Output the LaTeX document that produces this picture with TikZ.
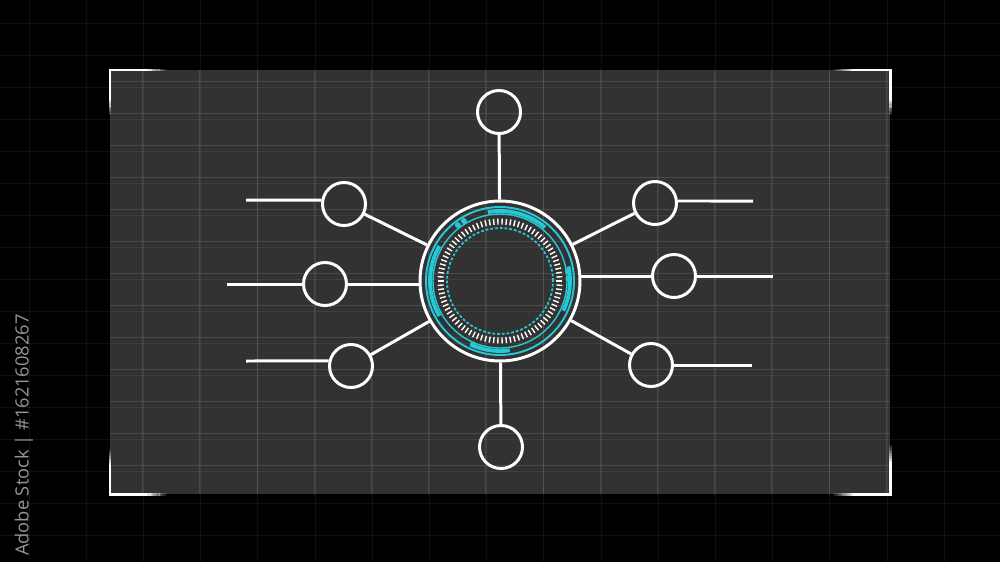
\documentclass[tikz,border=0pt]{standalone}
\usepackage{fontspec}
\setmainfont{Open Sans}
\definecolor{panel}{RGB}{50,50,50}
\definecolor{gridc}{RGB}{74,74,74}
\definecolor{cyanc}{RGB}{38,200,214}
\definecolor{wmark}{RGB}{150,150,150}
\begin{document}
\begin{tikzpicture}[x=0.02cm,y=-0.02cm,
  link/.style={draw=white,line width=1.7pt},
  sat/.style={circle,draw=white,line width=1.7pt,minimum size=0.86cm,inner sep=0pt},
  hub/.style={circle,draw=white,line width=1.7pt,minimum size=3.2cm,inner sep=0pt},
  thinring/.style={draw=cyanc,line width=1.1pt},
  thickarc/.style={draw=cyanc,line width=2.2pt},
  tick/.style={draw=white,line width=0.8pt},
  bracket/.style={draw=white,line width=1.7pt},
  fadeseg/.style={draw=white,line width=1.7pt,line cap=butt},
  pgrid/.style={draw=gridc,line width=0.5pt},
  bgrid/.style={draw=white,opacity=0.06,line width=0.5pt},
  cdot/.style={fill=cyanc}
]
\useasboundingbox (0,0) rectangle (1000,562);
\fill[black] (0,0) rectangle (1000,562);
\fill[panel] (110,70) rectangle (890,494);
\begin{scope}
  \clip (110,70) rectangle (890,494);
  \foreach \k in {-2,...,11} \draw[pgrid] ({257+57.2*\k},70) -- ({257+57.2*\k},494);
  \foreach \k in {0,...,12} \draw[pgrid] (110,{81+32*\k}) -- (890,{81+32*\k});
\end{scope}
% background grid
\foreach \k in {0,...,17} \draw[bgrid] ({29+57.2*\k},0) -- ({29+57.2*\k},562);
\foreach \k in {1,...,18} \draw[bgrid] (0,{-9+32*\k}) -- (1000,{-9+32*\k});

% corner brackets (solid part)
\draw[bracket] (110,98) -- (110,70) -- (145,70);
\draw[bracket] (855,70) -- (890,70) -- (890,98);
\draw[bracket] (110,466) -- (110,494) -- (145,494);
\draw[bracket] (855,494) -- (890,494) -- (890,464);
% corner brackets (fading part)
\foreach \i [evaluate=\i as \op using 1-\i/12] in {0,...,11}{
  \draw[fadeseg,opacity=\op] ({145+1.8*\i},70) -- ({146.9+1.8*\i},70);
  \draw[fadeseg,opacity=\op] ({855-1.8*\i},70) -- ({853.1-1.8*\i},70);
  \draw[fadeseg,opacity=\op] ({145+1.8*\i},494) -- ({146.9+1.8*\i},494);
  \draw[fadeseg,opacity=\op] ({855-1.8*\i},494) -- ({853.1-1.8*\i},494);
  \draw[fadeseg,opacity=\op] (110,{98+1.4*\i}) -- (110,{99.5+1.4*\i});
  \draw[fadeseg,opacity=\op] (890,{98+1.4*\i}) -- (890,{99.5+1.4*\i});
  \draw[fadeseg,opacity=\op] (110,{466-1.4*\i}) -- (110,{464.5-1.4*\i});
  \draw[fadeseg,opacity=\op] (890,{464-1.6*\i}) -- (890,{462.3-1.6*\i});
}

% nodes
\node[hub] (c) at (500,281) {};
\node[sat] (t) at (499,112) {};
\node[sat] (b) at (501,447) {};
\node[sat] (ul) at (344,204) {};
\node[sat] (ml) at (325,284) {};
\node[sat] (ll) at (351,366) {};
\node[sat] (ur) at (655,203) {};
\node[sat] (mr) at (674,276) {};
\node[sat] (lr) at (651,365) {};

\coordinate (ulE) at (246,200);
\coordinate (mlE) at (227,284);
\coordinate (llE) at (246,361);
\coordinate (urE) at (753,201);
\coordinate (mrE) at (773,276);
\coordinate (lrE) at (752,365);

% connectors
\draw[link] (t) -- (c);
\draw[link] (b) -- (c);
\draw[link] (ul) -- (c);
\draw[link] (ll) -- (c);
\draw[link] (ur) -- (c);
\draw[link] (lr) -- (c);
\draw[link] (ml.east) -- (c.west |- ml.east);
\draw[link] (mr.west) -- (c.east |- mr.west);
\draw[link] (ulE) -- (ul.170);
\draw[link] (mlE) -- (ml.west);
\draw[link] (llE) -- (ll.167);
\draw[link] (urE) -- (ur.5);
\draw[link] (mrE) -- (mr.east);
\draw[link] (lrE) -- (lr.east);

% hub decoration
\draw[thinring] (c.center) circle[radius=1.48cm];
\draw[thinring,line width=0.8pt] (c.center) circle[radius=1.34cm];
\draw[thickarc] ([shift={(50:1.40cm)}]c.center) arc[start angle=50,end angle=100,radius=1.40cm];
\draw[thickarc] ([shift={(245:1.40cm)}]c.center) arc[start angle=245,end angle=278,radius=1.40cm];
\draw[thickarc] ([shift={(150:1.40cm)}]c.center) arc[start angle=150,end angle=210,radius=1.40cm];
\draw[thickarc] ([shift={(-25:1.40cm)}]c.center) arc[start angle=-25,end angle=12,radius=1.40cm];
\foreach \a in {0,4,...,356}
  \draw[tick] ([shift={(\a:1.13cm)}]c.center) -- ([shift={(\a:1.25cm)}]c.center);
\draw[cyanc,line width=1pt,dash pattern=on 1.6pt off 1.1pt] (c.center) circle[radius=1.06cm];
\fill[cdot] ([shift={(127:1.40cm)}]c.center) circle[radius=0.06cm];
\fill[cdot] ([shift={(121:1.40cm)}]c.center) circle[radius=0.06cm];
\fill[cdot] ([shift={(8:1.37cm)}]c.center) circle[radius=0.06cm];
\fill[cdot] ([shift={(2:1.37cm)}]c.center) circle[radius=0.06cm];
\fill[cdot] ([shift={(247:1.38cm)}]c.center) circle[radius=0.06cm];

% watermark strip
\node[rotate=90,anchor=east,text=wmark,inner sep=0pt,font=\fontsize{10.4pt}{12pt}\selectfont] (wm) at (24,314) {Adobe Stock | \#1621608267};
\end{tikzpicture}
\end{document}
